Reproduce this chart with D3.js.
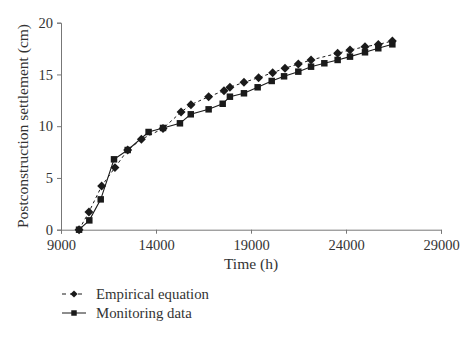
<!DOCTYPE html>
<html><head><meta charset="utf-8">
<script src="https://cdn.jsdelivr.net/npm/d3@7"></script>
<style>body{margin:0;background:#fff}svg{display:block}</style>
</head><body>
<script>
const empTime = [9950,10470,11140,11840,12510,13230,14370,15320,15840,16770,17580,17890,18630,19400,20140,20790,21490,22160,23560,24210,25000,25700,26440];
const empVal  = [0,1.71,4.22,6.0,7.7,8.73,9.78,11.37,12.08,12.85,13.43,13.76,14.24,14.69,15.17,15.6,16.01,16.4,17.04,17.36,17.68,17.9,18.23];
const monTime = [9950,10490,11090,11790,12510,13610,14370,15260,15830,16770,17510,17890,18630,19350,20090,20740,21490,22160,22860,23560,24210,25000,25700,26440];
const monVal  = [0,0.9,2.93,6.8,7.7,9.44,9.83,10.28,11.15,11.63,12.17,12.85,13.18,13.76,14.37,14.82,15.27,15.75,16.08,16.4,16.72,17.14,17.53,17.91];
const xTicks = [9000,14000,19000,24000,29000];
const yTicks = [0,5,10,15,20];
const seriesNames = ["Empirical equation","Monitoring data"];

const W=474,H=338;
const svg=d3.select("body").append("svg").attr("width",W).attr("height",H);
const font="'Liberation Serif','DejaVu Serif',serif";
const x=d3.scaleLinear().domain([9000,29000]).range([61,441]);
const y=d3.scaleLinear().domain([0,20]).range([229.7,22.7]);
const axColor="#777", txt="#333";

const xa=svg.append("g").attr("transform","translate(0,229.7)")
  .call(d3.axisBottom(x).tickValues(xTicks).tickFormat(d3.format("d")).tickSizeOuter(0).tickSize(4));
const ya=svg.append("g").attr("transform","translate(61,0)")
  .call(d3.axisLeft(y).tickValues(yTicks).tickSizeOuter(0).tickSize(4));
[xa,ya].forEach(g=>{
  g.selectAll("path,line").attr("stroke",axColor);
  g.selectAll("text").attr("fill",txt).style("font-family",font).style("font-size","14.5px");
});
xa.selectAll("text").attr("dy","0.95em");
ya.selectAll("text").attr("dx","-1px");

svg.append("text").attr("x",251).attr("y",269).attr("text-anchor","middle")
  .style("font-family",font).style("font-size","15.5px").attr("fill",txt).text("Time (h)");
svg.append("text").attr("transform","translate(28,126) rotate(-90)").attr("text-anchor","middle")
  .style("font-family",font).style("font-size","15.5px").attr("fill",txt).text("Postconstruction settlement (cm)");

const emp=empTime.map((t,i)=>[t,empVal[i]]);
const mon=monTime.map((t,i)=>[t,monVal[i]]);
const line=d3.line().x(d=>x(d[0])).y(d=>y(d[1]));
const col="#1a1a1a";
svg.append("path").datum(emp).attr("d",line).attr("fill","none").attr("stroke",col).attr("stroke-width",1).attr("stroke-dasharray","3,3");
svg.append("path").datum(mon).attr("d",line).attr("fill","none").attr("stroke",col).attr("stroke-width",1.1);
const sq=d3.symbol().type(d3.symbolSquare).size(42);
const dia=d3.symbol().type(d3.symbolSquare).size(40);
svg.append("g").selectAll("path").data(mon).join("path").attr("d",sq)
  .attr("transform",d=>`translate(${x(d[0])},${y(d[1])})`).attr("fill",col);
svg.append("g").selectAll("path").data(emp).join("path").attr("d",dia)
  .attr("transform",d=>`translate(${x(d[0])},${y(d[1])}) rotate(45)`).attr("fill",col);

// legend
const lg=svg.append("g");
const ly=[294,313];
lg.append("line").attr("x1",62).attr("x2",86).attr("y1",ly[0]).attr("y2",ly[0]).attr("stroke",col).attr("stroke-dasharray","4,4");
lg.append("path").attr("d",d3.symbol().type(d3.symbolSquare).size(26)).attr("transform",`translate(74,${ly[0]}) rotate(45)`).attr("fill",col);
lg.append("line").attr("x1",62).attr("x2",86).attr("y1",ly[1]).attr("y2",ly[1]).attr("stroke",col);
lg.append("path").attr("d",d3.symbol().type(d3.symbolSquare).size(30)).attr("transform",`translate(74,${ly[1]})`).attr("fill",col);
seriesNames.forEach((n,i)=>{
  lg.append("text").attr("x",96).attr("y",ly[i]+5).style("font-family",font).style("font-size","14.8px").attr("fill",txt).text(n);
});
</script>
</body></html>
